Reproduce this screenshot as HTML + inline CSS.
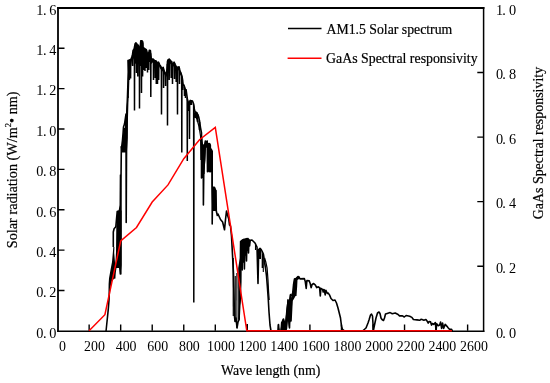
<!DOCTYPE html>
<html><head><meta charset="utf-8"><title>AM1.5 spectrum and GaAs responsivity</title>
<style>html,body{margin:0;padding:0;background:#fff;width:550px;height:383px;overflow:hidden}svg{display:block}</style></head>
<body>
<svg width="550" height="383" viewBox="0 0 550 383">
<rect width="550" height="383" fill="#fff"/>
<path d="M58 7.1V332" stroke="#000" stroke-width="1.8" fill="none"/><path d="M57.1 8H484.4" stroke="#000" stroke-width="1.8" fill="none"/><path d="M483.6 7.1V332" stroke="#000" stroke-width="1.5" fill="none"/><path d="M57.1 331.2H484.4" stroke="#000" stroke-width="1.5" fill="none"/><path d="M89.14 330.8 V324.50 M120.68 330.8 V324.50 M152.22 330.8 V324.50 M183.76 330.8 V324.50 M215.30 330.8 V324.50 M246.84 330.8 V324.50 M278.38 330.8 V324.50 M309.92 330.8 V324.50 M341.46 330.8 V324.50 M373.00 330.8 V324.50 M404.54 330.8 V324.50 M436.08 330.8 V324.50 M467.62 330.8 V324.50 M58.0 290.44 H64.50 M58.0 250.08 H64.50 M58.0 209.72 H64.50 M58.0 169.36 H64.50 M58.0 129.00 H64.50 M58.0 88.64 H64.50 M58.0 48.28 H64.50 M483.6 266.23 H477.30 M483.6 201.66 H477.30 M483.6 137.09 H477.30 M483.6 72.52 H477.30" stroke="#000" stroke-width="1.4" fill="none"/>
<polygon points="128.0,60.5 129.5,60.0 131.0,59.0 132.3,56.0 133.1,50.3 134.2,49.2 135.1,43.7 135.9,42.9 136.7,43.7 137.0,44.8 138.3,45.3 139.2,49.2 140.0,49.2 140.8,40.9 141.9,40.7 142.7,42.0 143.0,47.5 144.7,48.6 146.3,49.7 146.8,51.4 147.6,54.0 148.6,54.0 149.3,50.3 150.4,50.5 151.2,59.1 153.3,59.1 154.4,60.8 156.0,60.8 157.1,63.0 158.5,62.1 159.6,64.6 161.0,66.8 161.8,69.0 163.2,67.4 164.0,70.7 165.1,72.8 166.5,74.8 167.6,61.0 168.1,59.7 169.2,59.1 170.6,60.8 171.7,61.6 172.5,65.2 174.1,62.1 175.2,64.6 176.3,66.8 178.0,67.4 179.1,66.8 179.8,71.0 181.0,72.9 182.3,81.0 181.0,76.0 179.8,74.0 179.1,70.0 178.0,70.5 176.3,70.0 175.2,68.0 174.1,65.5 172.5,68.0 171.7,65.0 170.6,64.0 169.2,62.5 168.1,63.0 167.6,64.0 166.5,77.0 165.1,75.8 164.0,73.7 163.2,70.4 161.8,72.0 161.0,69.8 159.6,67.6 158.5,65.1 157.1,66.0 156.0,63.8 154.4,63.8 153.3,62.1 151.2,64.0 150.4,62.0 149.3,62.0 148.5,62.0 147.5,64.0 146.5,64.0 145.5,62.0 144.5,60.0 143.5,62.0 142.5,64.0 141.0,66.0 139.5,66.0 138.5,64.0 137.5,64.0 136.5,64.0 135.5,64.0 134.0,60.0 133.0,58.0 132.0,60.0 131.0,66.0 130.0,70.0 129.5,76.0 128.8,98.0 127.6,98.0" fill="#000"/><polygon points="125.2,118.0 126.0,114.0 127.5,96.0 128.6,96.0 128.0,118.0 127.8,138.0 126.9,152.5 125.0,152.5 123.2,152.5 121.5,152.5 120.3,146.5 121.9,145.5 122.0,142.0 123.3,131.8 123.9,127.4 125.0,128.0" fill="#000"/><polygon points="105.3,331.0 107.6,308.0 108.4,296.0 108.6,284.0 109.0,278.3 110.8,268.3 112.0,262.0 112.8,253.0 113.3,247.0 114.4,247.0 114.2,253.0 115.0,262.0 115.5,278.6 114.2,278.6 111.4,282.0 110.2,290.0 109.8,300.0 109.0,310.0 106.8,331.0" fill="#000"/><polygon points="116.3,226.0 117.2,211.6 119.4,210.8 120.0,210.5 121.6,210.5 121.6,265.0 120.6,274.5 119.6,274.5 119.0,268.0 116.5,268.0 114.8,278.4 113.2,278.4 115.5,262.0 116.0,252.0" fill="#000"/><polygon points="201.2,137.0 202.3,137.0 203.1,144.8 203.0,178.0 201.5,178.0" fill="#000"/><polygon points="203.6,145.0 205.3,140.4 206.0,142.0 206.0,147.0 205.0,164.0 204.6,174.0 203.8,174.0" fill="#000"/><polygon points="206.5,141.0 207.2,140.4 207.8,143.1 208.5,143.5 208.5,172.0 207.2,172.0 207.0,147.0" fill="#000"/><polygon points="209.2,143.1 209.4,143.1 210.3,144.8 211.1,148.6 210.8,172.0 209.5,172.0" fill="#000"/><polygon points="211.4,148.6 212.5,151.4 213.0,160.0 213.0,187.3 214.4,187.3 216.0,190.0 216.3,211.0 212.2,211.0 211.4,187.0" fill="#000"/><polygon points="258.6,249.6 260.0,248.4 261.2,249.6 261.0,259.0 258.6,259.0" fill="#000"/><polygon points="278.1,324.4 278.8,324.4 278.8,331.0 280.3,331.0 280.9,322.5 282.8,318.8 283.7,319.4 285.0,321.9 285.8,314.0 286.3,308.2 287.6,299.4 288.0,298.8 288.7,300.7 289.8,295.0 290.7,294.4 291.4,301.9 292.3,292.5 293.5,290.6 294.8,288.0 296.2,284.0 295.4,296.3 293.6,299.4 292.3,301.3 291.6,314.0 290.4,320.6 289.5,327.5 288.8,327.5 288.0,321.0 287.2,328.8 286.5,331.0 280.0,331.0" fill="#000"/><polygon points="290.5,296.0 293.0,290.8 294.0,280.1 294.6,278.3 296.1,278.3 297.4,276.4 299.3,276.4 300.2,278.3 297.5,280.0 297.2,286.0 296.5,296.0" fill="#000"/><polygon points="232.5,258.0 233.9,258.0 233.9,316.0 232.7,316.0" fill="#000"/><polygon points="234.7,276.0 235.8,276.0 235.8,321.4 234.7,321.4" fill="#000"/><polygon points="236.3,273.0 237.5,273.0 237.4,328.0 236.4,328.0" fill="#000"/><polygon points="238.2,268.0 239.8,258.0 239.9,241.0 241.5,241.0 241.5,282.0 241.0,300.0 239.9,306.0 239.9,319.8 238.2,319.8" fill="#000"/><polygon points="246.6,324.0 248.0,324.0 248.0,331.0 246.6,331.0" fill="#000"/><polyline points="195.3,113 197.2,120 199,126.5 200.6,136.5 200.9,160" fill="none" stroke="#000" stroke-width="1.2"/><polyline points="264.6,258 265.8,262 267.1,268 268,280 268.6,292 269.2,300" fill="none" stroke="#000" stroke-width="1.2"/><path d="M262.2 252V268M263.3 254V272M255.5 243V250" stroke="#000" stroke-width="1.1" fill="none"/>
<polyline points="113.3,247.0 113.3,232.0 114.1,228.7 115.8,226.8 117.2,211.6 119.4,210.8 120.3,205.0 120.5,175.0 120.8,274.0 121.0,180.0 121.3,150.0 122.5,140.0 123.0,134.0 123.5,127.0 124.5,124.0 126.0,114.0 126.2,222.5 126.7,115.0 127.5,96.0 128.3,72.0 128.0,61.0 128.0,60.5 129.4,60.0 129.5,60.0 130.6,59.3 131.0,59.0 132.3,56.0 132.6,53.9 133.1,50.3 134.2,49.2 134.5,47.4 135.1,43.7 135.9,42.9 136.5,43.5 136.7,43.7 137.0,44.8 137.8,45.1 138.3,45.3 139.2,49.2 139.5,49.2 140.0,49.2 140.8,40.9 141.5,40.8 141.9,40.7 142.6,41.8 142.7,42.0 143.0,47.5 143.8,48.0 144.7,48.6 145.0,48.8 146.3,49.7 146.3,49.7 146.8,51.4 147.5,53.7 147.6,54.0 148.6,54.0 148.8,52.9 149.3,50.3 150.4,50.5 150.8,54.8 151.2,59.1 153.3,59.1 153.5,59.4 154.4,60.8 155.2,60.8 156.0,60.8 156.3,61.4 157.1,63.0 157.5,62.7 158.5,62.1 158.7,62.6 159.6,64.6 161.0,66.8 161.5,68.2 161.8,69.0 163.2,67.4 163.6,69.1 164.0,70.7 165.1,72.8 165.6,73.5 166.5,74.8 167.5,62.3 167.6,61.0 168.1,59.7 169.2,59.1 169.2,59.1 170.6,60.8 171.2,61.2 171.7,61.6 172.5,65.2 172.5,65.2 174.1,62.1 174.5,63.0 175.2,64.6 176.2,66.6 176.3,66.8 177.5,67.2 178.0,67.4 179.1,66.8 179.5,69.2 179.8,71.0 181.0,72.9 181.8,76.0 182.3,77.9 182.6,81.1 183.0,85.4 184.0,85.1 184.5,87.0 184.9,88.5 185.5,89.2 186.1,89.8 186.8,94.8 187.3,98.5 187.5,100.0 188.5,102.7 188.8,103.5 189.5,102.1 190.3,100.4 190.5,100.5 191.5,100.7 192.5,101.0 193.5,103.5 193.8,105.5 194.5,110.0 195.4,112.6 195.5,112.6 196.6,112.3 196.6,112.3 197.5,114.0 197.9,114.8 198.8,117.3 199.5,121.0 199.5,121.0 200.5,127.6 201.5,133.0 201.5,178.0 202.5,150.0 203.2,145.0 203.4,205.0 203.8,170.0 204.6,160.0 205.3,141.0 206.0,142.0 206.0,147.0 207.2,141.0 207.5,171.8 208.3,143.5 209.2,171.8 209.6,143.5 210.3,145.0 210.6,171.8 211.1,149.0 212.2,151.4 212.2,224.0 212.6,187.3 214.4,187.3 215.5,190.0 214.8,210.0 216.0,190.5 216.3,211.0 217.3,215.5 218.0,214.0 220.5,219.5 222.6,222.0 224.5,229.8 225.5,219.6 226.5,211.0 227.5,215.0 228.7,218.7 229.5,225.0 230.5,226.0 231.5,236.0 232.5,255.0 233.5,274.0 234.0,295.0 234.5,316.5 235.0,321.5 236.0,318.0 237.0,328.0 238.0,322.0 239.0,320.0 240.0,300.0 240.5,274.0 240.7,241.5 241.6,240.6 242.2,270.0 242.6,239.8 243.3,262.0 243.8,239.3 244.4,269.0 245.0,239.0 245.5,255.0 246.0,238.9 246.5,261.0 247.0,238.5 247.5,250.0 248.0,238.6 248.5,253.0 249.0,239.5 249.6,246.0 250.2,240.3 252.0,240.0 255.0,243.0 257.0,247.0 258.0,283.5 258.7,249.6 260.0,248.4 261.2,249.6 262.5,252.1 263.4,254.0 264.0,257.8 264.5,262.0 265.5,268.0 266.5,276.0 267.3,285.6 268.2,298.0 269.0,312.0 270.0,325.0 271.0,331.0 278.0,331.0 278.5,324.5 279.0,331.0 281.0,331.0 283.5,319.0 285.0,325.0 286.0,322.0 287.5,308.0 288.0,300.0 289.5,328.0 290.5,294.5 291.0,321.0 292.0,300.0 293.5,285.0 294.5,279.0 296.0,278.5 298.0,276.5 299.0,277.0 300.0,278.9 304.3,278.6 305.2,281.2 306.2,288.4 306.9,280.5 309.2,280.9 310.1,283.2 311.1,287.7 312.1,284.5 313.7,283.5 315.4,285.1 316.7,287.7 318.0,286.8 319.6,287.7 320.3,295.9 320.9,288.4 322.6,289.4 323.2,292.0 323.8,289.6 324.2,289.7 325.2,294.9 325.9,290.4 326.8,292.3 327.4,293.5 328.1,293.0 329.5,294.9 330.8,298.0 331.0,298.5 333.0,300.5 335.0,300.0 336.5,303.0 338.0,308.0 339.5,314.0 340.5,318.0 341.5,326.0 342.5,329.5 344.5,331.0 362.5,331.0 366.0,328.0 368.0,323.0 369.0,320.0 370.5,315.0 371.5,314.0 372.5,316.0 373.0,324.0 373.5,330.0 374.5,325.0 376.0,318.0 377.5,313.0 379.0,312.0 380.0,313.5 381.0,318.0 382.0,319.5 383.5,320.5 384.5,318.0 385.5,314.0 387.2,313.4 390.1,312.6 392.3,313.7 395.2,313.0 398.1,314.5 399.5,315.9 402.5,315.9 404.3,317.0 406.1,315.5 409.7,316.3 411.9,317.4 413.4,319.5 417.0,319.9 419.9,320.3 421.0,319.2 422.0,319.5 423.9,320.2 425.9,319.5 427.2,321.2 428.2,323.1 429.2,321.5 430.5,321.8 431.5,325.1 432.4,323.5 433.7,324.4 435.4,322.5 436.0,331.0 436.7,323.8 438.3,325.7 439.6,325.1 440.6,322.1 441.6,328.4 442.6,323.1 443.6,328.4 445.2,324.4 446.8,326.1 448.1,327.7 449.5,329.3 451.4,329.3 452.5,331.0" fill="none" stroke="#000" stroke-width="1.6" stroke-linejoin="round"/>
<path d="M129.25 60.1L129.40 80.0L129.55 60.0M130.45 59.4L130.60 78.5L130.75 59.2M132.45 54.9L132.60 66.0L132.75 52.8M134.35 48.3L134.50 110.5L134.65 46.4M136.35 43.4L136.50 73.0L136.65 43.7M137.65 45.0L137.80 76.5L137.95 45.2M139.35 49.2L139.50 108.5L139.65 49.2M141.35 40.8L141.50 93.0L141.65 40.7M142.45 41.6L142.60 76.5L142.75 42.9M143.65 47.9L143.80 70.0L143.95 48.1M144.85 48.7L145.00 71.0L145.15 48.9M146.15 49.6L146.30 68.0L146.45 50.2M147.35 53.2L147.50 72.5L147.65 54.0M148.65 53.7L148.80 70.0L148.95 52.1M150.65 53.2L150.80 97.0L150.95 56.4M153.35 59.2L153.50 80.0L153.65 59.6M155.05 60.8L155.20 78.0L155.35 60.8M156.15 61.1L156.30 84.0L156.45 61.7M157.35 62.8L157.50 84.0L157.65 62.6M158.55 62.2L158.70 80.0L158.85 62.9M161.35 67.8L161.50 114.5L161.65 68.6M163.45 68.4L163.60 88.0L163.75 69.7M165.45 73.3L165.60 86.0L165.75 73.7M167.35 64.1L167.50 125.5L167.65 60.9M169.05 59.2L169.20 80.0L169.35 59.3M171.05 61.1L171.20 78.0L171.35 61.3M172.35 64.5L172.50 84.0L172.65 64.9M174.35 62.7L174.50 79.0L174.65 63.4M176.05 66.3L176.20 82.0L176.35 66.8M177.35 67.2L177.50 114.5L177.65 67.3M179.35 68.3L179.50 84.0L179.65 70.1M181.65 75.4L181.80 152.5L181.95 76.6M182.45 79.5L182.60 90.0L182.75 82.7M184.35 86.4L184.50 96.0L184.65 87.6M185.35 89.0L185.50 98.0L185.65 89.3M187.15 97.4L187.30 161.0L187.45 99.6M188.35 102.3L188.50 111.0L188.65 103.1M189.35 102.4L189.50 139.0L189.65 101.7M190.35 100.4L190.50 105.0L190.65 100.5M191.35 100.7L191.50 105.0L191.65 100.8M193.65 104.5L193.80 302.5L193.95 106.4M195.35 112.5L195.50 118.0L195.65 112.5M196.45 112.3L196.60 119.0L196.75 112.6M197.35 113.7L197.50 122.0L197.65 114.3M199.35 120.2L199.50 130.0L199.65 122.0" fill="none" stroke="#000" stroke-width="1.5"/>
<polyline points="89.1,330.8 104.9,314.7 120.7,241.0 136.5,227.5 152.2,202.0 168.0,184.9 183.8,158.7 199.5,139.7 215.3,127.4 246.8,330.8 451.9,330.8" fill="none" stroke="#ff0000" stroke-width="1.5" stroke-linejoin="miter"/>
<g style="font-family:'Liberation Serif',serif;font-size:13px" fill="#000">
<text x="62.40" y="351" text-anchor="middle" transform="translate(62.40,351) scale(1.07,1.08) translate(-62.40,-351)">0</text>
<text x="94.52" y="351" text-anchor="middle" transform="translate(94.52,351) scale(1.07,1.08) translate(-94.52,-351)">200</text>
<text x="126.14" y="351" text-anchor="middle" transform="translate(126.14,351) scale(1.07,1.08) translate(-126.14,-351)">400</text>
<text x="157.76" y="351" text-anchor="middle" transform="translate(157.76,351) scale(1.07,1.08) translate(-157.76,-351)">600</text>
<text x="189.38" y="351" text-anchor="middle" transform="translate(189.38,351) scale(1.07,1.08) translate(-189.38,-351)">800</text>
<text x="221.00" y="351" text-anchor="middle" transform="translate(221.00,351) scale(1.07,1.08) translate(-221.00,-351)">1000</text>
<text x="252.62" y="351" text-anchor="middle" transform="translate(252.62,351) scale(1.07,1.08) translate(-252.62,-351)">1200</text>
<text x="284.24" y="351" text-anchor="middle" transform="translate(284.24,351) scale(1.07,1.08) translate(-284.24,-351)">1400</text>
<text x="315.86" y="351" text-anchor="middle" transform="translate(315.86,351) scale(1.07,1.08) translate(-315.86,-351)">1600</text>
<text x="347.48" y="351" text-anchor="middle" transform="translate(347.48,351) scale(1.07,1.08) translate(-347.48,-351)">1800</text>
<text x="379.10" y="351" text-anchor="middle" transform="translate(379.10,351) scale(1.07,1.08) translate(-379.10,-351)">2000</text>
<text x="410.72" y="351" text-anchor="middle" transform="translate(410.72,351) scale(1.07,1.08) translate(-410.72,-351)">2200</text>
<text x="442.34" y="351" text-anchor="middle" transform="translate(442.34,351) scale(1.07,1.08) translate(-442.34,-351)">2400</text>
<text x="473.96" y="351" text-anchor="middle" transform="translate(473.96,351) scale(1.07,1.08) translate(-473.96,-351)">2600</text>
<text x="32.98 39.01 44.89" y="337.60" transform="translate(0,337.60) scale(1.1,1.08) translate(0,-337.60)">0.0</text>
<text x="32.98 39.01 44.89" y="297.24" transform="translate(0,297.24) scale(1.1,1.08) translate(0,-297.24)">0.2</text>
<text x="32.98 39.01 44.89" y="256.88" transform="translate(0,256.88) scale(1.1,1.08) translate(0,-256.88)">0.4</text>
<text x="32.98 39.01 44.89" y="216.52" transform="translate(0,216.52) scale(1.1,1.08) translate(0,-216.52)">0.6</text>
<text x="32.98 39.01 44.89" y="176.16" transform="translate(0,176.16) scale(1.1,1.08) translate(0,-176.16)">0.8</text>
<text x="32.98 39.01 44.89" y="135.80" transform="translate(0,135.80) scale(1.1,1.08) translate(0,-135.80)">1.0</text>
<text x="32.98 39.01 44.89" y="95.44" transform="translate(0,95.44) scale(1.1,1.08) translate(0,-95.44)">1.2</text>
<text x="32.98 39.01 44.89" y="55.08" transform="translate(0,55.08) scale(1.1,1.08) translate(0,-55.08)">1.4</text>
<text x="32.98 39.01 44.89" y="14.72" transform="translate(0,14.72) scale(1.1,1.08) translate(0,-14.72)">1.6</text>
<text x="450.84 456.56 462.84" y="337.60" transform="translate(0,337.60) scale(1.1,1.08) translate(0,-337.60)">0.0</text>
<text x="450.84 456.56 462.84" y="273.03" transform="translate(0,273.03) scale(1.1,1.08) translate(0,-273.03)">0.2</text>
<text x="450.84 456.56 462.84" y="208.46" transform="translate(0,208.46) scale(1.1,1.08) translate(0,-208.46)">0.4</text>
<text x="450.84 456.56 462.84" y="143.89" transform="translate(0,143.89) scale(1.1,1.08) translate(0,-143.89)">0.6</text>
<text x="450.84 456.56 462.84" y="79.32" transform="translate(0,79.32) scale(1.1,1.08) translate(0,-79.32)">0.8</text>
<text x="450.84 456.56 462.84" y="14.75" transform="translate(0,14.75) scale(1.1,1.08) translate(0,-14.75)">1.0</text>
</g>
<g style="font-family:'Liberation Serif',serif;font-size:14px" fill="#000" stroke="#000" stroke-width="0.2">
<line x1="288" y1="28.6" x2="321.5" y2="28.6" stroke="#000" stroke-width="1.5"/>
<line x1="287.6" y1="58.3" x2="321.5" y2="58.3" stroke="#ff0000" stroke-width="1.5"/>
<text x="326.5" y="33.5" textLength="125.8" lengthAdjust="spacingAndGlyphs">AM1.5 Solar spectrum</text>
<text x="326" y="62.6" textLength="151.6" lengthAdjust="spacingAndGlyphs">GaAs Spectral responsivity</text>
<text x="221" y="375.1" textLength="99.3" lengthAdjust="spacingAndGlyphs">Wave length (nm)</text>
<text transform="translate(16.8,248.2) rotate(-90)" x="0" y="0" textLength="156.8" lengthAdjust="spacingAndGlyphs">Solar radiation (W/m<tspan dy="-6" font-size="8.5px">2</tspan><tspan dy="6">• nm)</tspan></text>
<text transform="translate(543.3,219.3) rotate(-90)" x="0" y="0" textLength="152.4" lengthAdjust="spacingAndGlyphs">GaAs Spectral responsivity</text>
</g>
</svg>
</body></html>
